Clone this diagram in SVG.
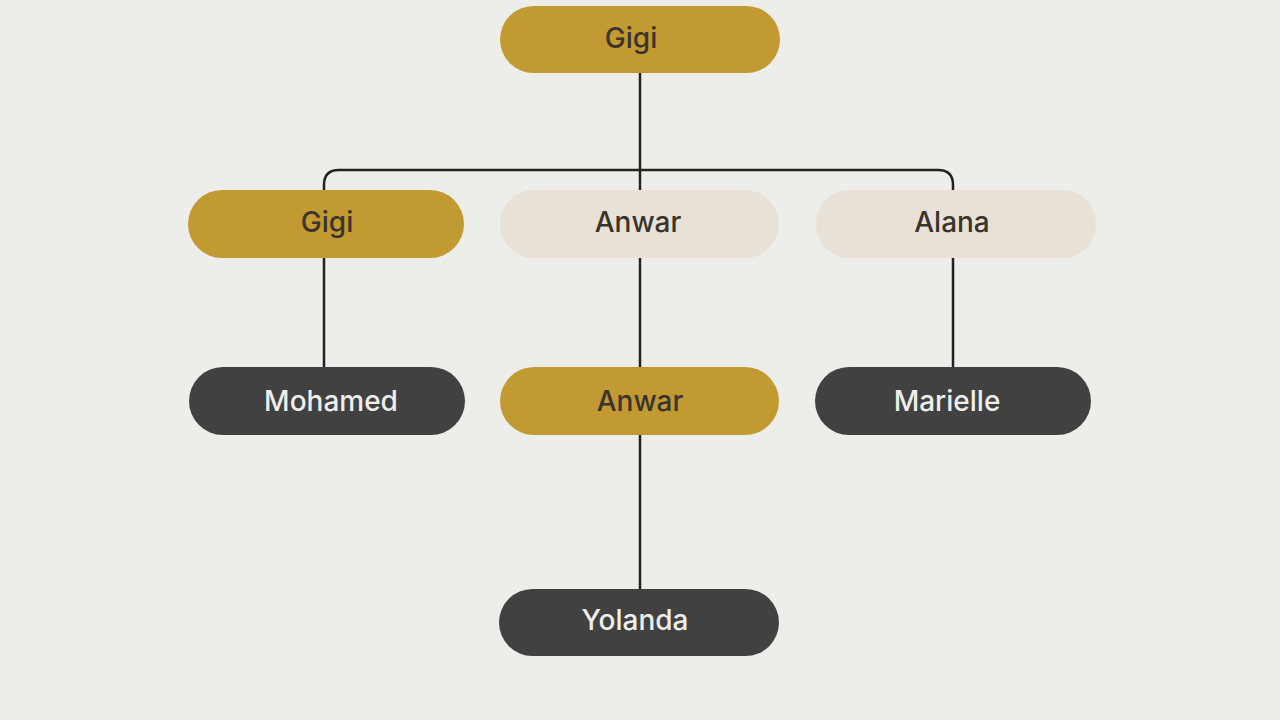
<svg xmlns="http://www.w3.org/2000/svg" width="1280" height="720" viewBox="0 0 1280 720">
<style>
.gold{fill:#C29A32}
.beige{fill:#E7E1D7}
.dark{fill:#414141}
.t{font-family:Inter,"Noto Sans",sans-serif;font-size:28px;font-weight:500;text-anchor:middle;dominant-baseline:central;fill:#3A342C}
.tl{fill:#EEEEEA}
.c{fill:none;stroke:#222222;stroke-width:2.5}
</style>
<rect width="1280" height="720" fill="#EDEDE9"/>
<g id="connectors">
<path class="c" d="M640 73 V190"/>
<path class="c" d="M324 190 V185 Q324 170 339 170 H938 Q953 170 953 185 V190"/>
<path class="c" d="M324 258 V367"/>
<path class="c" d="M640 258 V367"/>
<path class="c" d="M953 258 V367"/>
<path class="c" d="M640 435 V589"/>
</g>
<g id="n-gigi-root"><rect class="gold" x="500" y="6" width="280" height="67" rx="33.5"/><text class="t" x="631" y="38">Gigi</text></g>
<g id="n-gigi"><rect class="gold" x="188" y="190" width="276" height="68" rx="34"/><text class="t" x="327" y="222">Gigi</text></g>
<g id="n-anwar"><rect class="beige" x="500" y="190" width="279" height="68" rx="34"/><text class="t" x="638" y="222">Anwar</text></g>
<g id="n-alana"><rect class="beige" x="816" y="190" width="280" height="68" rx="34"/><text class="t" x="952" y="222">Alana</text></g>
<g id="n-mohamed"><rect class="dark" x="189" y="367" width="276" height="68" rx="34"/><text class="t tl" x="331" y="401">Mohamed</text></g>
<g id="n-anwar2"><rect class="gold" x="500" y="367" width="279" height="68" rx="34"/><text class="t" x="640" y="401">Anwar</text></g>
<g id="n-marielle"><rect class="dark" x="815" y="367" width="276" height="68" rx="34"/><text class="t tl" x="947" y="401">Marielle</text></g>
<g id="n-yolanda"><rect class="dark" x="499" y="589" width="280" height="67" rx="33.5"/><text class="t tl" x="635" y="620">Yolanda</text></g>
</svg>
